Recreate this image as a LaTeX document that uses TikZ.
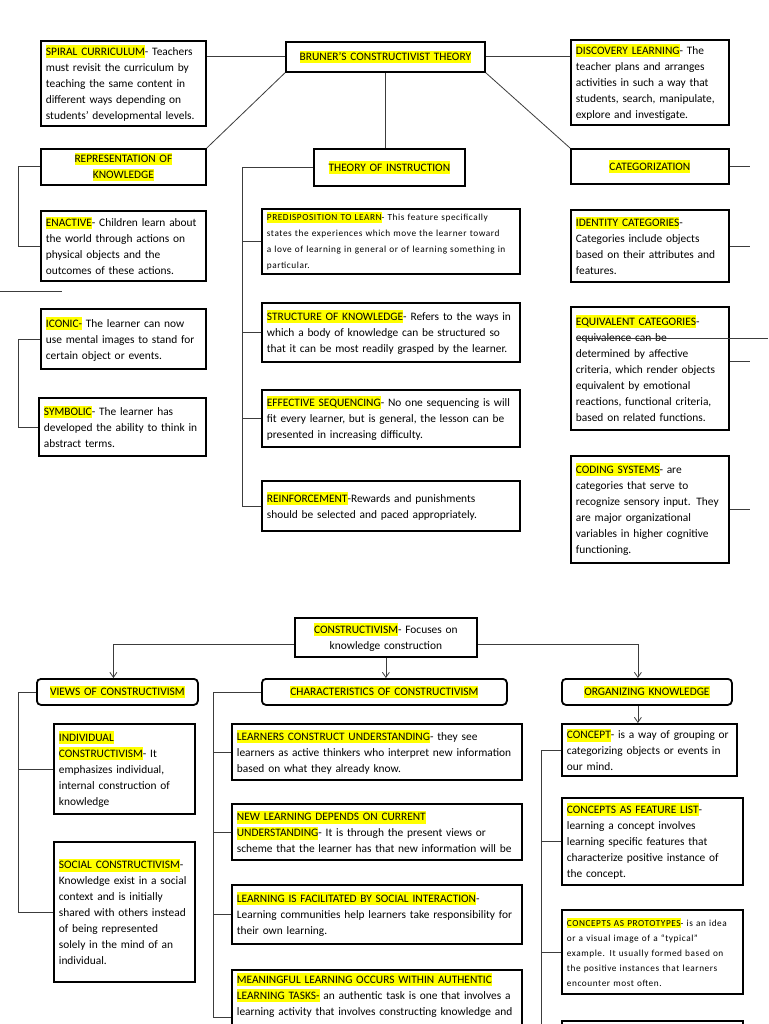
\documentclass[tikz,border=0pt]{standalone}
\usepackage{fontspec}
\setmainfont{Carlito}
\newfontfamily\smallfam[LetterSpace=6]{Carlito}
\usetikzlibrary{arrows.meta}
\definecolor{hlyellow}{RGB}{255,255,0}
\definecolor{linkgray}{RGB}{60,60,60}
\newcommand\bodyfont{\fontsize{11.4}{16}\selectfont}
\newcommand\smallfont{\smallfam\fontsize{9.3}{16}\selectfont}
\newcommand\protofont{\smallfam\fontsize{9.3}{15}\selectfont}
\newcommand\hlt[1]{\leavevmode\setbox0\hbox{#1}\rlap{\color{hlyellow}\rule[-0.22em]{\wd0}{1.12em}}\box0\relax}

\begin{document}
\begin{tikzpicture}[x=1pt,y=-1pt,
  box/.style={draw=black, line width=1.8pt, fill=white, anchor=north west, align=left,
    inner xsep=5pt, inner ysep=3pt, font=\bodyfont, text width=#1pt},
  midbox/.style={box=#1, align=center},
  roundbox/.style={midbox=#1, rounded corners=4pt},
  link/.style={draw=linkgray, line width=0.8pt},
  arrowlink/.style={link, -{Straight Barb[length=5pt,width=7pt]}}]
\useasboundingbox[fill=white] (0,0) rectangle (768,1024);
\clip (0,0) rectangle (768,1024);

\node[box=155, minimum height=85pt] (spiral) at (40,40) {\hlt{SPIRAL CURRICULUM}- Teachers\\ must revisit the curriculum by\\ teaching the same content in\\ different ways depending on\\ students’ developmental levels.};
\node[midbox=189, minimum height=30pt] (bruner) at (285,41) {\hlt{BRUNER’S CONSTRUCTIVIST THEORY}};
\node[box=148, minimum height=85pt] (discovery) at (570,39) {\hlt{DISCOVERY LEARNING}- The\\ teacher plans and arranges\\ activities in such a way that\\ students, search, manipulate,\\ explore and investigate.};
\node[midbox=155, minimum height=36pt] (repr) at (40,148) {\hlt{REPRESENTATION OF}\\ \hlt{KNOWLEDGE}};
\node[midbox=141, minimum height=37pt] (theory) at (313,148) {\hlt{THEORY OF INSTRUCTION}};
\node[midbox=148, minimum height=35pt] (categ) at (570,148) {\hlt{CATEGORIZATION}};
\node[box=155, minimum height=70pt] (enactive) at (40,210) {\hlt{ENACTIVE}- Children learn about\\ the world through actions on\\ physical objects and the\\ outcomes of these actions.};
\node[box=155, minimum height=60pt] (iconic) at (40,308) {\hlt{ICONIC-} The learner can now\\ use mental images to stand for\\ certain object or events.};
\node[box=157, minimum height=58pt] (symbolic) at (38,397) {\hlt{SYMBOLIC}- The learner has\\ developed the ability to think in\\ abstract terms.};
\node[box=248, minimum height=65pt, font=\smallfont] (predis) at (261,208) {\hlt{PREDISPOSITION TO LEARN}- This feature specifically\\ states the experiences which move the learner toward\\ a love of learning in general or of learning something in\\ particular.};
\node[box=248, minimum height=59pt] (struct) at (261,302) {\hlt{STRUCTURE OF KNOWLEDGE}- Refers to the ways in\\ which a body of knowledge can be structured so\\ that it can be most readily grasped by the learner.};
\node[box=248, minimum height=57pt] (effseq) at (261,389) {\hlt{EFFECTIVE SEQUENCING}- No one sequencing is will\\ fit every learner, but is general, the lesson can be\\ presented in increasing difficulty.};
\node[box=248, minimum height=50pt] (reinf) at (261,480) {\hlt{REINFORCEMENT}-Rewards and punishments\\ should be selected and paced appropriately.};
\node[box=148, minimum height=72pt] (identity) at (570,209) {\hlt{IDENTITY CATEGORIES}-\\ Categories include objects\\ based on their attributes and\\ features.};
\node[box=148, minimum height=123pt] (equiv) at (570,306) {\hlt{EQUIVALENT CATEGORIES}-\\ equivalence can be\\ determined by affective\\ criteria, which render objects\\ equivalent by emotional\\ reactions, functional criteria,\\ based on related functions.};
\node[box=148, minimum height=107pt] (coding) at (570,455) {\hlt{CODING SYSTEMS}- are\\ categories that serve to\\ recognize sensory input. They\\ are major organizational\\ variables in higher cognitive\\ functioning.};

\draw[link] (bruner.west) -- (bruner.west -| spiral.east);
\draw[link] (bruner.east) -- (bruner.east -| discovery.west);
\draw[link] (bruner.south west) -- (repr.north east);
\draw[link] (bruner.south east) -- (categ.north west);
\draw[link] (bruner.south) -- (bruner.south |- theory.north);
\draw[link] (repr.west) -| ([xshift=-22pt]enactive.west) -- (enactive.west);
\draw[link] (iconic.west) -- ++(-22,0) |- (symbolic.west);
\foreach \n in {predis,struct,effseq,reinf}
  \draw[link] (theory.west) -| ([xshift=-19pt]\n.west) -- (\n.west);
\draw[link] (categ.east) -- ++(20,0);
\draw[link] (identity.east) -- ++(20,0);
\draw[link] ([xshift=6pt,yshift=30pt]equiv.west) -- ++(192,0);
\draw[link] ([yshift=7pt]equiv.east) -- ++(20,0);
\draw[link] (coding.east) -- ++(20,0);
\draw[link] (0,291) -- (62,291);

\node[midbox=172, minimum height=39pt] (constr) at (294,617) {\hlt{CONSTRUCTIVISM}- Focuses on\\ knowledge construction};
\node[roundbox=151, minimum height=26pt] (views) at (36,678) {\hlt{VIEWS OF CONSTRUCTIVISM}};
\node[roundbox=235, minimum height=26pt] (char) at (261,678) {\hlt{CHARACTERISTICS OF CONSTRUCTIVISM}};
\node[roundbox=160, minimum height=26pt] (org) at (561,678) {\hlt{ORGANIZING KNOWLEDGE}};
\node[box=131, minimum height=90pt] (indiv) at (53,723) {\hlt{INDIVIDUAL}\\ \hlt{CONSTRUCTIVISM}- It\\ emphasizes individual,\\ internal construction of\\ knowledge};
\node[box=131, minimum height=140pt] (social) at (53,841) {\hlt{SOCIAL CONSTRUCTIVISM}-\\ Knowledge exist in a social\\ context and is initially\\ shared with others instead\\ of being represented\\ solely in the mind of an\\ individual.};
\node[box=280, minimum height=56pt] (learners) at (231,723) {\hlt{LEARNERS CONSTRUCT UNDERSTANDING}- they see\\ learners as active thinkers who interpret new information\\ based on what they already know.};
\node[box=280, minimum height=56pt] (newlearn) at (231,803) {\hlt{NEW LEARNING DEPENDS ON CURRENT}\\ \hlt{UNDERSTANDING}- It is through the present views or\\ scheme that the learner has that new information will be};
\node[box=280, minimum height=59pt] (facil) at (231,884) {\hlt{LEARNING IS FACILITATED BY SOCIAL INTERACTION}-\\ Learning communities help learners take responsibility for\\ their own learning.};
\node[box=280] (meaning) at (231,969) {\hlt{MEANINGFUL LEARNING OCCURS WITHIN AUTHENTIC}\\ \hlt{LEARNING TASKS-} an authentic task is one that involves a\\ learning activity that involves constructing knowledge and\\ \mbox{}};
\node[box=165, minimum height=52pt] (concept) at (561,723) {\hlt{CONCEPT}- is a way of grouping or\\ categorizing objects or events in\\ our mind.};
\node[box=171, minimum height=87pt] (feature) at (561,797) {\hlt{CONCEPTS AS FEATURE LIST}-\\ learning a concept involves\\ learning specific features that\\ characterize positive instance of\\ the concept.};
\node[box=171, minimum height=84pt, font=\protofont] (proto) at (561,909) {\hlt{CONCEPTS AS PROTOTYPES}- is an idea\\ or a visual image of a “typical”\\ example. It usually formed based on\\ the positive instances that learners\\ encounter most often.};
\node[box=171, minimum height=30pt] (nextbox) at (561,1020) {};

\coordinate (orgfoot) at ([xshift=-9pt]org.south);
\draw[arrowlink] ([yshift=-7pt]constr.west) -| ([xshift=-4pt]views.north);
\draw[arrowlink] (constr.south) -- (constr.south |- char.north);
\draw[arrowlink] ([yshift=-7pt]constr.east) -| ([xshift=-9pt]org.north);
\draw[arrowlink] (orgfoot) -- (orgfoot |- concept.north);
\foreach \n in {indiv,social}
  \draw[link] (views.west) -| ([xshift=-35pt]\n.west) -- (\n.west);
\foreach \n in {learners,newlearn,facil}
  \draw[link] (char.west) -| ([xshift=-18pt]\n.west) -- (\n.west);
\draw[link] (char.west) -| ([xshift=-18pt,yshift=-48pt]meaning.north west) -- ([yshift=-48pt]meaning.north west);
\foreach \n in {feature,proto,nextbox}
  \draw[link] (concept.west) -| ([xshift=-20pt]\n.west) -- (\n.west);
\end{tikzpicture}
\end{document}
